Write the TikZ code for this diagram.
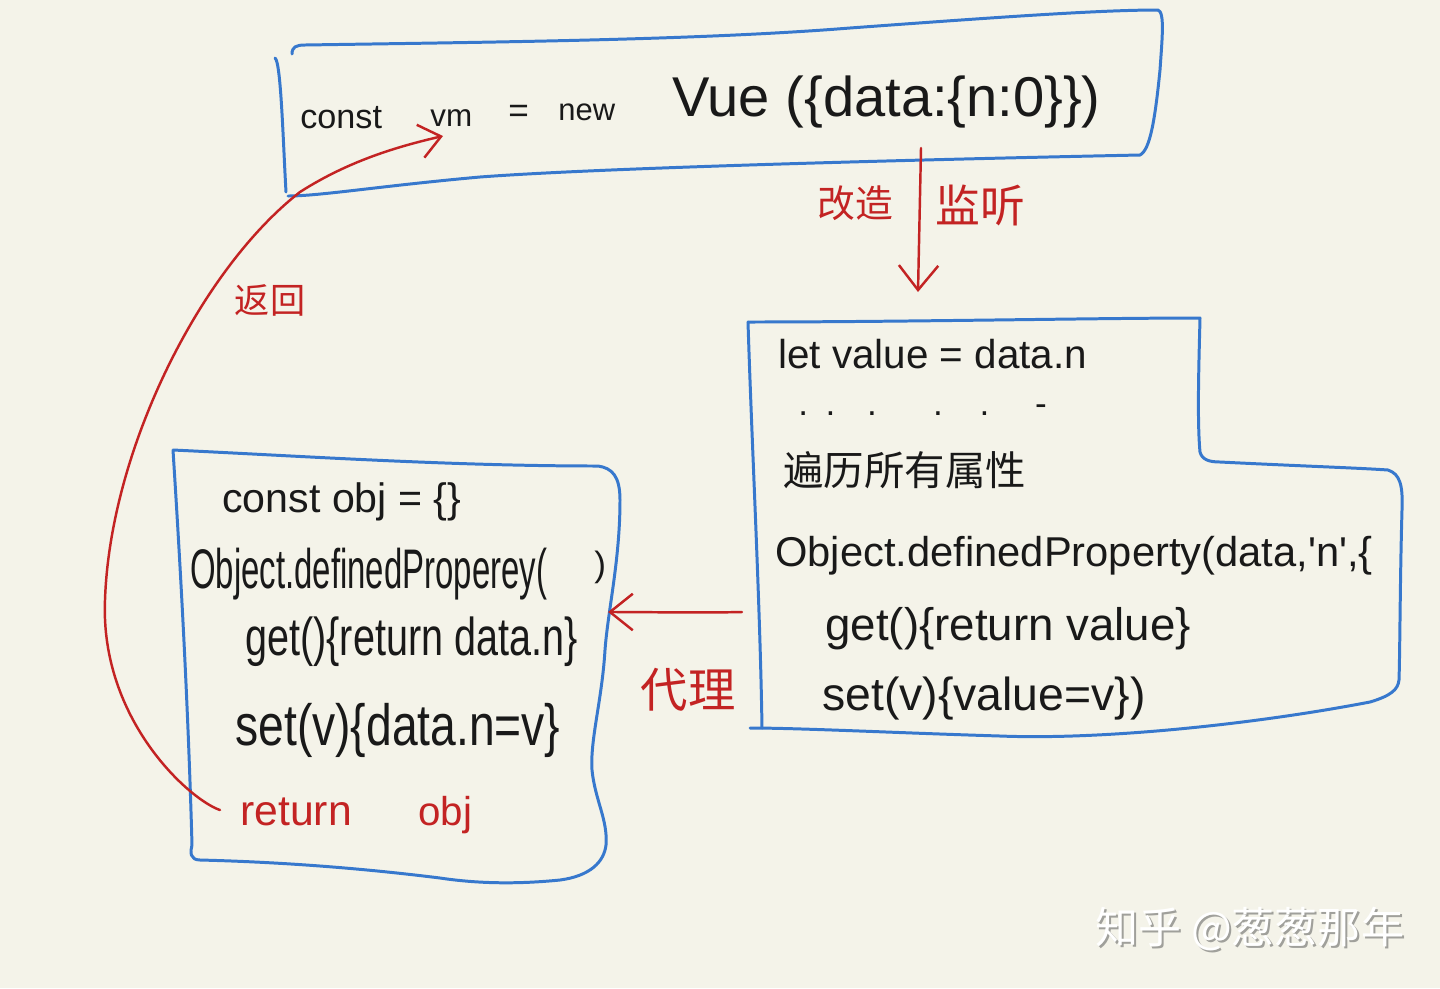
\documentclass[tikz,border=0pt]{standalone}
\usepackage{fontspec}
\setmainfont{Liberation Sans}[Ligatures=TeXOff]
\newfontfamily\cjk{Noto Sans CJK SC}
\usetikzlibrary{arrows.meta}
\definecolor{bg}{RGB}{244,243,233}
\definecolor{pen}{RGB}{25,25,25}
\definecolor{inkred}{RGB}{195,35,35}
\definecolor{inkblue}{RGB}{55,120,205}
\definecolor{shade}{RGB}{160,160,155}
\newcommand\fw[2]{\resizebox{#1pt}{!}{#2}}
\newcommand\fwh[3]{\resizebox{#1pt}{#2pt}{#3}}
\begin{document}
\begin{tikzpicture}[x=0.02cm,y=-0.02cm,
  boxline/.style={draw=inkblue,line width=1.7pt,line cap=round,line join=round},
  redline/.style={draw=inkred,line width=1.4pt,line cap=round,line join=round},
  code/.style={anchor=base west,inner sep=0pt,text=pen,font=\fontsize{20}{24}\selectfont},
  redcode/.style={code,text=inkred},
  redlabel/.style={anchor=center,inner sep=0pt,text=inkred,font=\cjk\fontsize{20}{24}\selectfont},
  barb/.style={-{Straight Barb[length=#1pt,width=1.6*#1pt]}}
]
\fill[bg] (0,0) rectangle (1440,988);
\useasboundingbox (0,0) rectangle (1440,988);

% ---------- top box ----------
\draw[boxline] (292,54) .. controls (292,47) and (296,45) .. (305,45) .. controls (500,42) and (700,40) .. (850,28)
  .. controls (1000,17) and (1100,10) .. (1158,10) .. controls (1165,12) and (1162,40) .. (1160,70)
  .. controls (1155,120) and (1150,150) .. (1140,155) .. controls (900,160) and (600,168) .. (480,177)
  .. controls (380,186) and (320,196) .. (288,196);
\draw[boxline] (275,58) .. controls (281,62) and (283,140) .. (286,192);

\node[code] (const) at (300,128) {\fw{46.5}{const}};
\node[code] (vm) at (430,126) {\fw{23.8}{vm}};
\node[code] (eq) at (508,122) {=};
\node[code] (new) at (558,120) {\fw{32.3}{new}};
\node[code] (vue) at (672,116) {\fw{243.8}{Vue (\{data:\{n:0\}\})}};
\coordinate (vmtip) at (443,136);

% ---------- red down arrow ----------
\coordinate (downstart) at (921,148);
\coordinate (downend) at (918,292);
\draw[redline,barb=14] (downstart) -- (downend);
\node[redlabel] (gaizao) at (855,203) {\fw{43}{改造}};
\node[redlabel] (jianting) at (980,205) {\fw{51}{监听}};

% ---------- right L box ----------
\draw[boxline] (748,322) .. controls (900,322) and (1100,318) .. (1200,318)
  .. controls (1199,360) and (1197,420) .. (1200,452) .. controls (1202,460) and (1210,462) .. (1220,462)
  .. controls (1300,466) and (1360,468) .. (1388,470) .. controls (1400,474) and (1403,485) .. (1402,510)
  .. controls (1400,580) and (1400,650) .. (1399,680) .. controls (1398,690) and (1390,696) .. (1370,702)
  .. controls (1250,725) and (1100,740) .. (1000,736) .. controls (900,733) and (800,728) .. (750,728);
\draw[boxline] (748,322) .. controls (752,450) and (760,600) .. (762,728);

\node[code] (letv) at (778,368) {\fw{175.7}{let value = data.n}};
\node[code] (dots) at (798,415) {.\hspace{10pt}.\hspace{18pt}.\hspace{32pt}.\hspace{21pt}.\hspace{26pt}-};
\node[anchor=west,inner sep=0pt,text=pen,font=\cjk\fontsize{20}{24}\selectfont] (bianli) at (783,470) {\fw{138}{遍历所有属性}};
\node[code] (objR) at (775,566) {\fw{340}{Object.definedProperty(data,'n',\{}};
\node[code] (getR) at (825,640) {\fw{208}{get()\{return value\}}};
\node[code] (setR) at (822,710) {\fw{184}{set(v)\{value=v\})}};

% ---------- left box ----------
\draw[boxline] (173,450) .. controls (300,456) and (450,466) .. (598,466)
  .. controls (612,468) and (620,476) .. (620,500) .. controls (620,560) and (608,610) .. (605,650)
  .. controls (602,700) and (590,740) .. (592,770) .. controls (595,800) and (608,820) .. (606,845)
  .. controls (604,862) and (590,876) .. (560,880) .. controls (520,884) and (480,884) .. (440,878)
  .. controls (360,868) and (280,862) .. (200,860) .. controls (190,860) and (190,852) .. (192,845)
  .. controls (188,700) and (180,560) .. (173,450);

\node[code] (constobj) at (222,512) {\fw{136}{const obj = \{\}}};
\node[code] (objL) at (190,588) {\fwh{203}{23}{Object.definedProperey(}};
\node[code] (parL) at (594,576) {)};
\node[code] (getL) at (245,655) {\fwh{189}{22}{get()\{return data.n\}}};
\node[code] (setL) at (235,745) {\fwh{185}{24}{set(v)\{data.n=v\}}};
\node[redcode] (ret) at (240,825) {\fw{63.5}{return}};
\node[redcode] (retobj) at (418,825) {\fw{30.6}{obj}};
\coordinate (retstart) at (220,810);

% ---------- proxy arrow ----------
\coordinate (proxystart) at (742,612);
\coordinate (proxyend) at (608,612);
\draw[redline,barb=13] (proxystart) .. controls (700,613) and (650,612) .. (proxyend);
\node[redlabel] (daili) at (688,690) {\fw{53.9}{代理}};

% ---------- return arrow ----------
\draw[redline,barb=12] (retstart) .. controls (190,800) and (100,720) .. (105,600)
  .. controls (110,450) and (200,270) .. (300,192)
  .. controls (350,160) and (400,146) .. (vmtip);
\node[redlabel] (fanhui) at (270,300) {\fw{40}{返回}};

% ---------- watermark ----------
\node[anchor=west,inner sep=0pt,text=shade,font=\cjk\fontsize{20}{24}\selectfont] (wmshadow) at (1097,931) {\fw{175.7}{知乎 @葱葱那年}};
\node[anchor=west,inner sep=0pt,text=white,font=\cjk\fontsize{20}{24}\selectfont] (wm) at (1095,929) {\fw{175.7}{知乎 @葱葱那年}};
\end{tikzpicture}
\end{document}
